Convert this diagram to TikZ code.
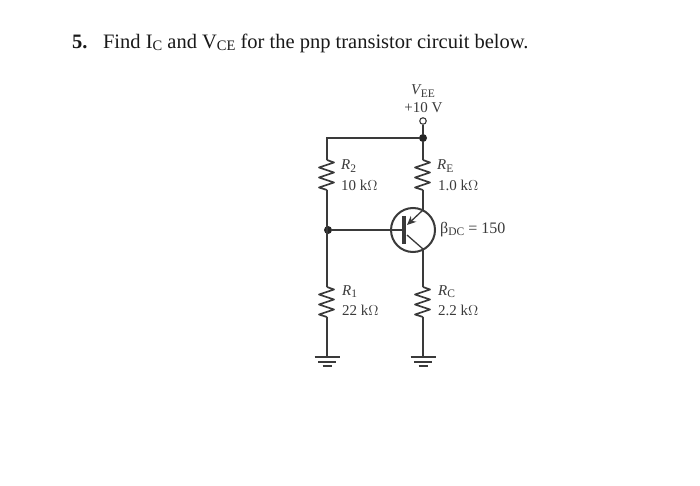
\documentclass[tikz,border=0pt]{standalone}
\usepackage{fontspec}
\setmainfont{Liberation Serif}
\usetikzlibrary{arrows.meta,decorations.pathmorphing}
\definecolor{ink}{HTML}{3A3A3A}
\newcommand{\gnd}[2]{%
 \draw[wire,line width=2pt] (#1-12.5,#2) -- (#1+12.5,#2);
 \draw[wire,line width=2pt] (#1-9,#2+4.5) -- (#1+9,#2+4.5);
 \draw[wire,line width=2pt] (#1-4.5,#2+9) -- (#1+4.5,#2+9);}
\newcommand{\resis}[2]{%
 \draw[wire,line width=1.7pt,line join=round] (#1,#2) -- ++(7,2.5) -- ++(-15,5) -- ++(15,5) -- ++(-15,5) -- ++(15,5) -- ++(-15,5) -- ++(8,2.5);}
\newcommand{\sbs}[1]{\raisebox{-2.5pt}{\fontsize{11.5}{12}\selectfont #1}}
\newcommand{\tsb}[1]{\raisebox{-2.5pt}{\fontsize{14.5}{16}\selectfont #1}}
\tikzset{
 wire/.style={draw=ink,line width=1.3pt},
 dot/.style={circle,fill=black!85,inner sep=0pt,minimum size=8pt},
 lbl/.style={text=ink,font=\fontsize{15}{16}\selectfont,inner sep=0pt,anchor=base west},
 ttl/.style={text=black!90,font=\fontsize{20.5}{24}\selectfont,inner sep=0pt,anchor=base west}
}
\begin{document}
\begin{tikzpicture}[x=1pt,y=-1pt]
\useasboundingbox[fill=white] (0,0) rectangle (700,486);
\node[ttl] (title) at (72,48.5) {\textbf{5.}\hspace{15.5pt}Find I\tsb{C} and V\tsb{CE} for the pnp transistor circuit below.};
% nodes
\node[circle,draw=ink,line width=1.1pt,inner sep=0pt,minimum size=6.5pt] (term) at (423,121) {};
\node[dot] (jt) at (423,138) {};
\node[dot] (jb) at (328,230) {};
\coordinate (tl) at (327,138);
\node[circle,draw=ink,line width=2pt,inner sep=0pt,minimum size=44pt] (q) at (413,230) {};
% wires
\draw[wire] (term) -- (jt);
\draw[wire] (jt) -- (tl) -- (327,160);
\resis{327}{160}
\draw[wire] (327,190) -- (327,287);
\resis{327}{287}
\draw[wire] (327,317) -- (327,357);
\gnd{327}{357}
\draw[wire] (jt) -- (423,160);
\resis{423}{160}
\draw[wire] (423,190) -- (423,210);
\draw[wire] (jb) -- (404,230);
\draw[ink,line width=3.5pt] (404,216) -- (404,244);
\draw[wire,-{Stealth[length=9pt,width=8pt]}] (423,210) -- (407,225);
\draw[wire] (407,235) -- (423,249);
\draw[wire] (423,249) -- (423,287);
\resis{423}{287}
\draw[wire] (423,317) -- (423,357);
\gnd{423}{357}
% labels
\node[lbl,anchor=base] (vee) at (423,95) {\textit{V}\hspace{-1pt}\sbs{EE}};
\node[lbl,anchor=base] (v10) at (423.5,113) {+10 V};
\node[lbl] (r2) at (341,170) {\textit{R}\sbs{2}};
\node[lbl] (r2v) at (341,191) {10 k$\Omega$};
\node[lbl] (re) at (437,170) {\textit{R}\sbs{E}};
\node[lbl] (rev) at (438,191) {1.0 k$\Omega$};
\node[lbl,font=\fontsize{16}{16}\selectfont] (b) at (440,233) {β\sbs{DC} = 150};
\node[lbl] (r1) at (342,295) {\textit{R}\sbs{1}};
\node[lbl] (r1v) at (342,315) {22 k$\Omega$};
\node[lbl] (rc) at (438,295) {\textit{R}\sbs{C}};
\node[lbl] (rcv) at (438,315) {2.2 k$\Omega$};
\end{tikzpicture}
\end{document}
